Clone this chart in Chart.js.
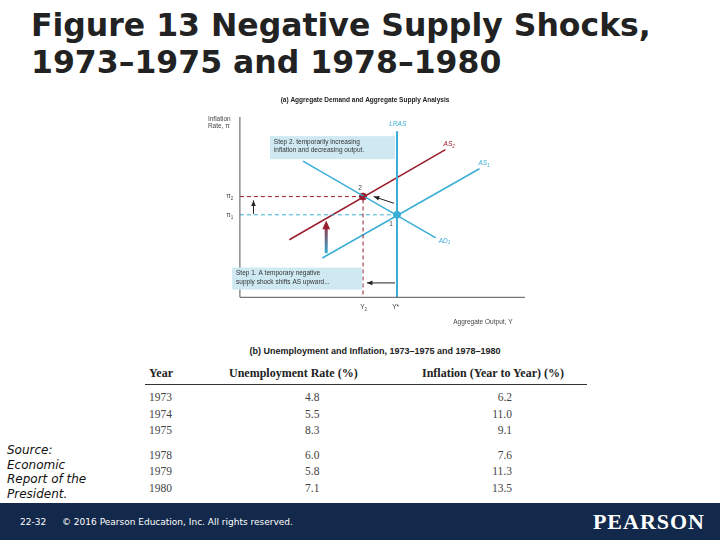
<!DOCTYPE html>
<html><head><meta charset="utf-8">
<script src="https://cdn.jsdelivr.net/npm/chart.js@4"></script>
<style>
body{margin:0;width:720px;height:540px;position:relative;background:#fff;font-family:"DejaVu Sans",sans-serif;overflow:hidden}
#title{position:absolute;left:31px;top:7px;font-size:31.5px;font-weight:bold;line-height:37px;color:#222;white-space:nowrap}
#cv{position:absolute;left:200px;top:88px}
#ptitle{position:absolute;left:0;width:720px;top:346px;text-align:center;font:bold 9px Arial,"Liberation Sans",sans-serif;padding-left:30px;box-sizing:border-box;color:#222}
table{position:absolute;left:145px;top:364px;width:442px;border-collapse:collapse;font-family:"Liberation Serif",serif;font-size:11.5px;color:#444}
th{font-weight:bold;color:#222;border-bottom:1.5px solid #333;padding:2px 4px 3px;text-align:left;font-size:12px}
td{padding:0 4px;height:16.5px}
td.u{padding-left:80px}
td.i{text-align:right;padding-right:75px}
tr.gap td{padding-top:8px}
#src{position:absolute;left:7px;top:443px;font:italic 12px Verdana,"DejaVu Sans",sans-serif;line-height:14.5px;color:#111}
#foot{position:absolute;left:0;top:503px;width:720px;height:37px;background:#13294b;color:#fff}
#foot .n{position:absolute;left:20px;top:14px;font-size:9px}
#foot .c{position:absolute;left:62px;top:14px;font-size:9px}
#foot .p{position:absolute;right:15px;top:6px;font:bold 22px "Liberation Serif",serif;letter-spacing:1px}
</style></head><body>
<div id="title">Figure 13 Negative Supply Shocks,<br>1973–1975 and 1978–1980</div>
<canvas id="cv" width="330" height="245"></canvas>
<div id="ptitle">(b) Unemployment and Inflation, 1973–1975 and 1978–1980</div>
<table id="tb"></table>
<div id="src">Source:<br>Economic<br>Report of the<br>President.</div>
<div id="foot"><span class="n">22-32</span><span class="c">© 2016 Pearson Education, Inc. All rights reserved.</span><span class="p">PEARSON</span></div>
<script>
const years=["1973","1974","1975","1978","1979","1980"];
const unemployment=["4.8","5.5","8.3","6.0","5.8","7.1"];
const inflation=["6.2","11.0","9.1","7.6","11.3","13.5"];
const tableHeaders=["Year","Unemployment Rate (%)","Inflation (Year to Year) (%)"];
// diagram curves (x: output units, y: inflation units)
const as1=[{x:85,y:41},{x:247,y:134}];
const as2=[{x:51,y:60},{x:212,y:154}];
const ad1=[{x:65,y:142},{x:202,y:62}];
const lras=[{x:162,y:0},{x:162,y:173}];
const point1=[{x:162,y:86}];
const point2=[{x:127,y:105}];

let h='<tr><th style="width:72px">'+tableHeaders[0]+'</th><th style="width:185px">'+tableHeaders[1]+'</th><th>'+tableHeaders[2]+'</th></tr><tr><td style="height:4px"></td></tr>';
years.forEach((y,i)=>{h+='<tr'+(i==3?' class="gap"':'')+'><td>'+y+'</td><td class="u">'+unemployment[i]+'</td><td class="i">'+inflation[i]+'</td></tr>';});
document.getElementById('tb').innerHTML=h;

const BLUE='#3aaed6',RED='#9a1e2c';
const ds=(d,c,w,dash)=>({data:d,showLine:true,borderColor:c,borderWidth:w,borderDash:dash||[],pointRadius:0,fill:false});
const deco={id:'deco',afterDatasetsDraw(ch){
 const c=ch.ctx,X=v=>ch.scales.x.getPixelForValue(v),Y=v=>ch.scales.y.getPixelForValue(v);
 c.save();
 const arrow=(x1,y1,x2,y2,col,w)=>{c.strokeStyle=col;c.fillStyle=col;c.lineWidth=w;c.beginPath();c.moveTo(X(x1),Y(y1));c.lineTo(X(x2),Y(y2));c.stroke();
  const a=Math.atan2(Y(y2)-Y(y1),X(x2)-X(x1));c.beginPath();c.moveTo(X(x2),Y(y2));c.lineTo(X(x2)-6*Math.cos(a-0.4),Y(y2)-6*Math.sin(a-0.4));c.lineTo(X(x2)-6*Math.cos(a+0.4),Y(y2)-6*Math.sin(a+0.4));c.fill();};
 const sub=(t,s,x,y)=>{c.fillText(t,X(x),Y(y));const w=c.measureText(t).width;const f=c.font;c.font=f.replace('6.5px','4.5px');c.fillText(s,X(x)+w,Y(y)+2.5);c.font=f;};
 c.fillStyle='#cfe9f3';c.fillRect(X(31),Y(168),125,23);c.fillRect(X(-8),Y(31),130,22);
 c.font='6.5px Arial';c.fillStyle='#333';c.textBaseline='middle';
 c.fillText('Step 2. temporarily increasing',X(35),Y(162));c.fillText('inflation and decreasing output.',X(35),Y(153));
 c.fillText('Step 1. A temporary negative',X(-4),Y(25));c.fillText('supply shock shifts AS upward...',X(-4),Y(16));
 arrow(159,98,138,105,'#222',1);arrow(160,15,131,15,'#222',1);arrow(14,87,14,101,'#222',1);
 const g=c.createLinearGradient(0,Y(46),0,Y(78));g.addColorStop(0,BLUE);g.addColorStop(1,RED);
 c.strokeStyle=g;c.lineWidth=3;c.beginPath();c.moveTo(X(89),Y(46));c.lineTo(X(89),Y(72));c.stroke();
 c.fillStyle=RED;c.beginPath();c.moveTo(X(89),Y(80));c.lineTo(X(85),Y(71));c.lineTo(X(93),Y(71));c.fill();
 c.fillStyle='#444';c.font='6.5px Arial';c.fillText('Inflation',X(-33),Y(186));c.fillText('Rate, π',X(-33),Y(178));
 sub('π','2',-14,105);sub('π','1',-14,86);sub('Y','2',124,-10);c.fillText('Y*',X(157),Y(-10));
 c.fillText('Aggregate Output, Y',X(220),Y(-26));c.fillText('2',X(122),Y(114));c.fillText('1',X(154),Y(76));
 c.fillStyle=BLUE;c.font='italic 6.5px Arial';c.fillText('LRAS',X(154),Y(180));sub('AS','1',246,140);sub('AD','1',205,59);
 c.fillStyle=RED;sub('AS','2',210,160);
 c.fillStyle='#222';c.font='bold 6.5px Arial';c.fillText('(a) Aggregate Demand and Aggregate Supply Analysis',X(42),Y(205));
 c.restore();}};
new Chart(document.getElementById('cv'),{type:'scatter',
 data:{datasets:[
  ds([{x:0,y:0},{x:294,y:0}],'#555',1),ds([{x:0,y:0},{x:0,y:188}],'#555',1),
  ds([{x:0,y:105},{x:127,y:105},{x:127,y:0}],RED,1,[4,3]),ds([{x:0,y:86},{x:162,y:86}],BLUE,1,[4,3]),
  ds(lras,BLUE,2),ds(as1,BLUE,1.5),ds(as2,RED,1.5),ds(ad1,BLUE,1.5),
  {data:point1,pointRadius:3.5,backgroundColor:BLUE,borderColor:BLUE},
  {data:point2,pointRadius:3.5,backgroundColor:RED,borderColor:RED}]},
 options:{responsive:false,animation:false,layout:{padding:0},
  plugins:{legend:{display:false},tooltip:{enabled:false}},
  scales:{x:{type:'linear',min:-36,max:294,display:false},y:{type:'linear',min:-32,max:213,display:false}}},
 plugins:[deco]});
</script></body></html>
